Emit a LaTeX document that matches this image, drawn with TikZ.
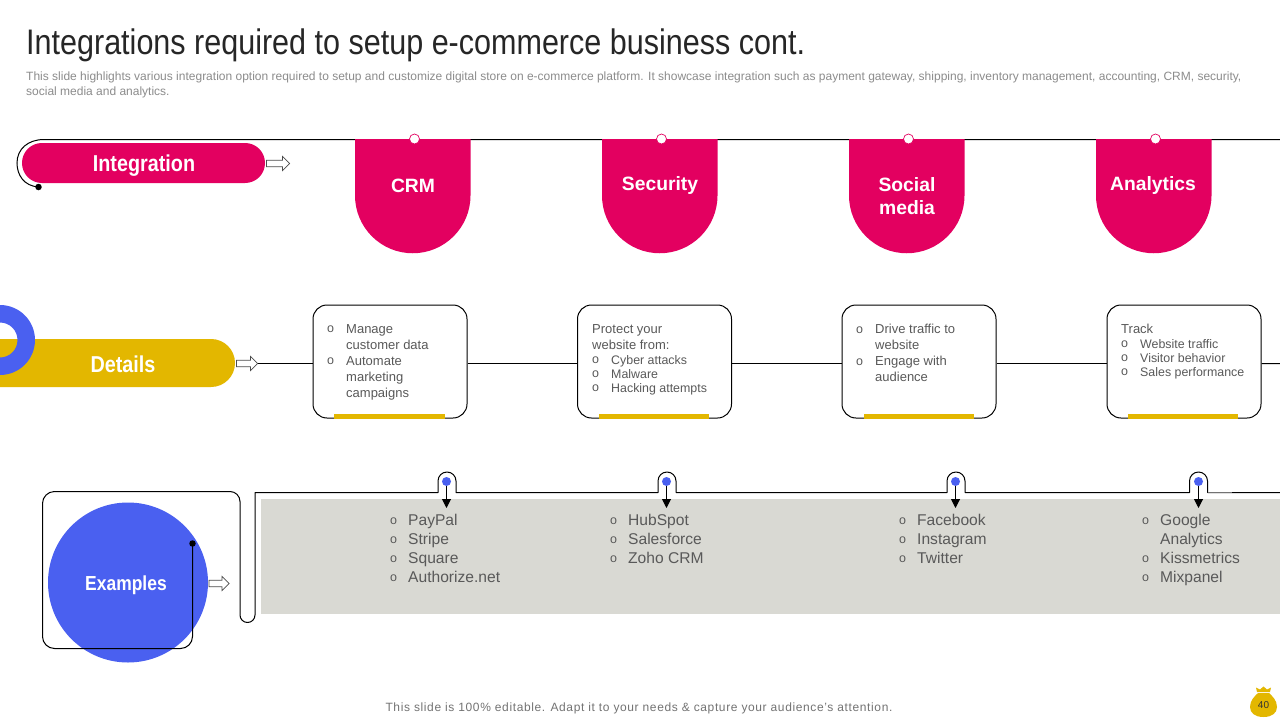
\documentclass[tikz,border=0pt]{standalone}
\usepackage{fontspec}
\setmainfont{Liberation Sans}
\newfontfamily\narrowfont[FakeStretch=0.86]{Liberation Sans}
\newfontfamily\spacedfont[LetterSpace=5.2]{Liberation Sans}
\usetikzlibrary{shapes.arrows,arrows.meta}
\definecolor{pinkc}{HTML}{E30060}
\definecolor{yellowc}{HTML}{E3B700}
\definecolor{bluec}{HTML}{4A60F0}
\definecolor{greyband}{HTML}{D9D9D3}
\definecolor{txt}{HTML}{595959}
\newcommand{\bul}[1]{\makebox[#1][l]{\raisebox{.2pt}{\fontsize{12.5}{10}\selectfont o}}}
\tikzset{
 wire/.style={draw=black,line width=1pt},
 knob/.style={circle,fill=white,draw=pinkc,line width=.7pt,minimum size=10pt,inner sep=0},
 head/.style={text=white,font=\narrowfont\fontsize{23}{28}\selectfont\bfseries,inner sep=0},
 tabtext/.style={font=\fontsize{19.3}{23}\selectfont\bfseries,text=white,align=center},
 blockarrow/.style={single arrow,draw=black!70,fill=white,line width=.8pt,minimum height=#1,minimum width=14pt,single arrow head extend=3.5pt,inner sep=0},
 detailbox/.style={draw=black,fill=white,line width=1pt,rounded corners=14pt,minimum width=154pt,minimum height=113pt,inner sep=0},
 detailtext/.style={anchor=north west,align=left,inner sep=0,text=txt,font=\fontsize{13}{16}\selectfont},
 bar/.style={fill=yellowc},
 extext/.style={anchor=north west,align=left,inner sep=0,text=txt,font=\fontsize{15.6}{19}\selectfont},
 dotb/.style={circle,fill=bluec,minimum size=9pt,inner sep=0},
 dotk/.style={circle,fill=black,minimum size=6.5pt,inner sep=0},
 drop/.style={draw=black,line width=1pt,-{Triangle[length=9pt,width=9pt]}},
}
\begin{document}
\begin{tikzpicture}[x=1pt,y=-1pt]
\clip (0,0) rectangle (1280,720);
\fill[white] (0,0) rectangle (1280,720);
% title
\node[anchor=west,inner sep=0,text=black!85] (title) at (26,45) {\narrowfont\fontsize{35.5}{40}\selectfont Integrations required to setup e-commerce business cont.};
\node[anchor=north west,inner sep=0,text=black!45,align=left,font=\fontsize{12}{14.2}\selectfont] (sub) at (26,72) {This slide highlights various integration option required to setup and customize digital store on e-commerce platform. It showcase integration such as payment gateway, shipping, inventory management, accounting, CRM, security,\\social media and analytics.};
% row 1
\coordinate (topend) at (1280,139.5);
\node[dotk] (intdot) at (38.5,187) {};
\draw[wire] (intdot.center) .. controls (24,186) and (17,175) .. (17,163) .. controls (17,149) and (28,139.5) .. (44,139.5) -- (topend);
\fill[pinkc,rounded corners=19.9pt] (22,143) rectangle (265,183);
\node[head] (integration) at (144,166) {Integration};
\node[blockarrow=23pt] (a1) at (276.5,163.5) {\rule{0pt}{5pt}};
\foreach \x in {355,602,849,1096}{
 \fill[pinkc] (\x,139) -- ++(115.5,0) -- ++(0,56.5) arc[start angle=0,end angle=180,radius=57.75] -- cycle;
}
\node[tabtext] (crm) at (413,186) {CRM};
\node[tabtext] (sec) at (660,186) {Security};
\node[tabtext] (soc) at (907,196.5) {Social\\media};
\node[tabtext] (ana) at (1153,186) {Analytics};
\node[knob] (k1) at (414.5,139) {};
\node[knob] (k2) at (661.5,139) {};
\node[knob] (k3) at (908.5,139) {};
\node[knob] (k4) at (1155.5,139) {};
% row 2
\fill[yellowc,rounded corners=23.9pt] (-40,339) rectangle (235,387);
\fill[bluec,even odd rule] (0,340) circle (35) (0,340) circle (17.5);
\node[head] (details) at (123,364.5) {Details};
\node[detailbox] (b1) at (390,361.5) {};
\node[detailbox] (b2) at (654.5,361.5) {};
\node[detailbox] (b3) at (919,361.5) {};
\node[detailbox] (b4) at (1184,361.5) {};
\coordinate (midend) at (1280,363.5);
\node[blockarrow=21pt] (a2) at (245.5,363.5) {\rule{0pt}{5pt}};
\draw[wire] (a2.east) -- (b1.west |- a2.east);
\draw[wire] (b1.east |- a2.east) -- (b2.west |- a2.east);
\draw[wire] (b2.east |- a2.east) -- (b3.west |- a2.east);
\draw[wire] (b3.east |- a2.east) -- (b4.west |- a2.east);
\draw[wire] (b4.east |- a2.east) -- (midend);
\fill[bar] (334,414) rectangle (445,419);
\fill[bar] (599,414) rectangle (709,419);
\fill[bar] (864,414) rectangle (974,419);
\fill[bar] (1128,414) rectangle (1238,419);
\node[detailtext] (d1) at (327,324) {\bul{19pt}Manage\\\hspace*{19pt}customer data\\\bul{19pt}Automate\\\hspace*{19pt}marketing\\\hspace*{19pt}campaigns};
\node[detailtext] (d2a) at (592,324) {Protect your\\website from:};
\node[detailtext,font=\fontsize{12.4}{14}\selectfont] (d2b) at (592,355) {\bul{19pt}Cyber attacks\\\bul{19pt}Malware\\\bul{19pt}Hacking attempts};
\node[detailtext] (d3) at (856,324) {\bul{19pt}Drive traffic to\\\hspace*{19pt}website\\\bul{19pt}Engage with\\\hspace*{19pt}audience};
\node[detailtext] (d4a) at (1121,324) {Track};
\node[detailtext,font=\fontsize{12.4}{14}\selectfont] (d4b) at (1121,339) {\bul{19pt}Website traffic\\\bul{19pt}Visitor behavior\\\bul{19pt}Sales performance};
% row 3
\fill[greyband] (261,499) rectangle (1280,614);
\fill[bluec] (128,582.5) circle (80);
\node[head,font=\narrowfont\fontsize{20.3}{25}\selectfont\bfseries] (examples) at (126,585.5) {Examples};
\node[blockarrow=20pt] (a3) at (217.5,583.5) {\rule{0pt}{5pt}};
\node[dotk] (exdot) at (192.5,543.5) {};
\coordinate (botend) at (1280,492.5);
\draw[wire,line join=round] (exdot.center) -- (192.5,636.5) arc[start angle=0,end angle=90,radius=12]
 -- (54.5,648.5) arc[start angle=90,end angle=180,radius=12]
 -- (42.5,503.5) arc[start angle=180,end angle=270,radius=12]
 -- (230,491.5) arc[start angle=270,end angle=360,radius=10]
 -- (240,615) arc[start angle=180,end angle=0,radius=7.5]
 -- (255,492.5) -- (438,492.5) -- (438,481) arc[start angle=180,end angle=360,radius=9] -- (456,492.5)
 -- (658,492.5) -- (658,481) arc[start angle=180,end angle=360,radius=9] -- (676,492.5)
 -- (947,492.5) -- (947,481) arc[start angle=180,end angle=360,radius=9] -- (965,492.5)
 -- (1189.5,492.5) -- (1189.5,481) arc[start angle=180,end angle=360,radius=9] -- (1207.5,492.5) -- (botend);
\draw[draw=black!55,line width=1.2pt] (1208,492.8) -- (1232,492.8);
\node[dotb] (p1) at (446.5,481.5) {}; \coordinate (p1e) at (446.5,508);
\node[dotb] (p2) at (666.5,481.5) {}; \coordinate (p2e) at (666.5,508);
\node[dotb] (p3) at (955.5,481.5) {}; \coordinate (p3e) at (955.5,508);
\node[dotb] (p4) at (1198.5,481.5) {}; \coordinate (p4e) at (1198.5,508);
\draw[drop] (p1.south) -- (p1e);
\draw[drop] (p2.south) -- (p2e);
\draw[drop] (p3.south) -- (p3e);
\draw[drop] (p4.south) -- (p4e);
\node[extext] (e1) at (390,513.5) {\bul{18pt}PayPal\\\bul{18pt}Stripe\\\bul{18pt}Square\\\bul{18pt}Authorize.net};
\node[extext] (e2) at (610,513.5) {\bul{18pt}HubSpot\\\bul{18pt}Salesforce\\\bul{18pt}Zoho CRM};
\node[extext] (e3) at (899,513.5) {\bul{18pt}Facebook\\\bul{18pt}Instagram\\\bul{18pt}Twitter};
\node[extext] (e4) at (1142,513.5) {\bul{18pt}Google\\\hspace*{18pt}Analytics\\\bul{18pt}Kissmetrics\\\bul{18pt}Mixpanel};
% footer
\node[inner sep=0,text=black!55] (foot) at (639,708) {\spacedfont\fontsize{12}{14}\selectfont This slide is 100\% editable. Adapt it to your needs \& capture your audience’s attention.};
\fill[yellowc] (1263.5,717) .. controls (1255,717) and (1250,713) .. (1250,707) .. controls (1250,700) and (1255,696) .. (1258,693) -- (1269,693) .. controls (1272,696) and (1277,700) .. (1277,707) .. controls (1277,713) and (1272,717) .. (1263.5,717) -- cycle;
\fill[yellowc] (1257,692) -- (1256,687.5) -- (1260,689.5) -- (1263.5,686.5) -- (1267,689.5) -- (1271,687.5) -- (1270,692) -- cycle;
\node[inner sep=0,font=\fontsize{10}{12}\selectfont,text=black!80] (pg) at (1263.5,705.5) {40};
\end{tikzpicture}
\end{document}
